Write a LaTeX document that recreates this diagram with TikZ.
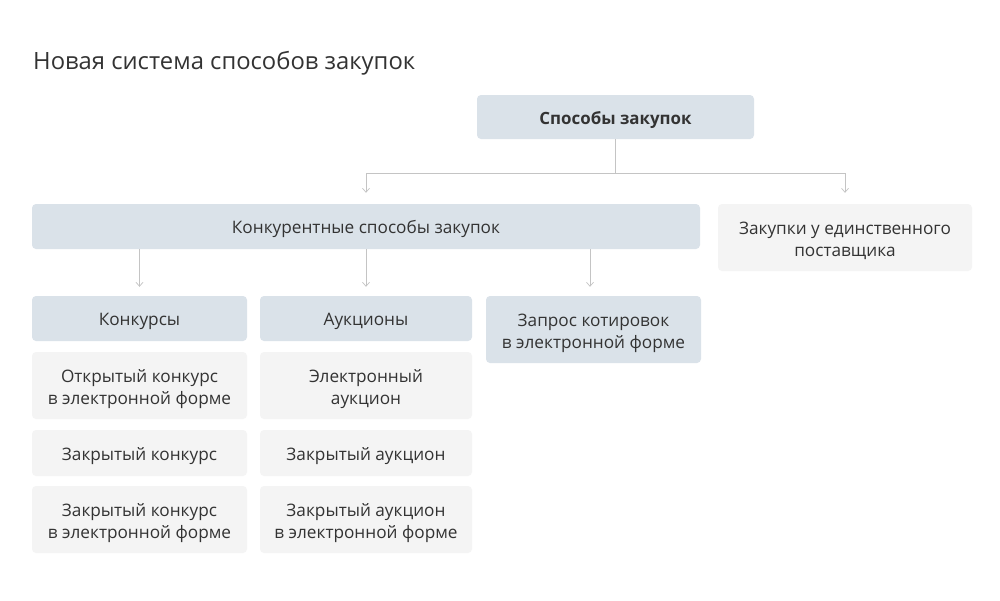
\documentclass[tikz,border=0pt]{standalone}
\usepackage{fontspec}
\setmainfont{Open Sans}
\usetikzlibrary{arrows.meta}
\definecolor{bluebox}{HTML}{DAE2E9}
\definecolor{greybox}{HTML}{F4F4F4}
\definecolor{txt}{HTML}{333333}
\definecolor{lin}{HTML}{C4C4C4}
\newcommand{\tlup}{\rule{0pt}{22pt}}
\tikzset{
  base/.style={rounded corners=4pt, inner sep=0pt, align=center, text=txt,
    font=\fontsize{17.2}{22}\selectfont,
    execute at begin node={\rule{0pt}{20pt}},
    execute at end node={\rule[-6pt]{0pt}{0pt}}},
  bbox/.style={base, fill=bluebox},
  gbox/.style={base, fill=greybox},
  conn/.style={draw=lin, line width=0.9pt},
  arr/.style={conn, -{Straight Barb[length=4pt,width=7pt,line width=0.7pt]}},
}
\begin{document}
\begin{tikzpicture}[x=1pt,y=-1pt]
\useasboundingbox[fill=white] (0,0) rectangle (1000,600);
\node[anchor=base west, text=txt, font=\fontsize{23.8}{28}\selectfont, inner sep=0pt] (title) at (33,69) {Новая система способов закупок};

\node[bbox, minimum width=277pt, minimum height=44pt, font=\fontsize{16.9}{22}\selectfont\bfseries] (top) at (615.5,117) {Способы закупок};
\node[bbox, minimum width=668pt, minimum height=45pt] (konk) at (366,226.5) {Конкурентные способы закупок};
\node[gbox, minimum width=254pt, minimum height=67pt] (edin) at (845,237.5) {\tlup Закупки у единственного\\поставщика};

\node[bbox, minimum width=215pt, minimum height=45pt] (konkursy) at (139.5,318.5) {Конкурсы};
\node[bbox, minimum width=212pt, minimum height=45pt] (auk) at (366,318.5) {Аукционы};
\node[bbox, minimum width=215pt, minimum height=67pt] (zapros) at (593.5,329.5) {\tlup Запрос котировок\\в электронной форме};

\node[gbox, minimum width=215pt, minimum height=67pt] (k1) at (139.5,385.5) {\tlup Открытый конкурс\\в электронной форме};
\node[gbox, minimum width=215pt, minimum height=46pt] (k2) at (139.5,453) {Закрытый конкурс};
\node[gbox, minimum width=215pt, minimum height=67pt] (k3) at (139.5,519.5) {\tlup Закрытый конкурс\\в электронной форме};

\node[gbox, minimum width=212pt, minimum height=67pt] (a1) at (366,385.5) {\tlup Электронный\\аукцион};
\node[gbox, minimum width=212pt, minimum height=46pt] (a2) at (366,453) {Закрытый аукцион};
\node[gbox, minimum width=212pt, minimum height=67pt] (a3) at (366,519.5) {\tlup Закрытый аукцион\\в электронной форме};

\coordinate (hub) at (615.5,173);
\draw[conn] (top.south) -- (hub);
\draw[conn] (konk.north |- hub) -- (edin.north |- hub);
\draw[arr, shorten >=11pt] (konk.north |- hub) -- (konk.north);
\draw[arr, shorten >=11pt] (edin.north |- hub) -- (edin.north);

\draw[arr, shorten >=9pt] (konk.south -| konkursy.north) -- (konkursy.north);
\draw[arr, shorten >=9pt] (konk.south -| auk.north) -- (auk.north);
\draw[arr, shorten >=9pt] ([xshift=-3.5pt]konk.south -| zapros.north) -- ([xshift=-3.5pt]zapros.north);
\end{tikzpicture}
\end{document}
